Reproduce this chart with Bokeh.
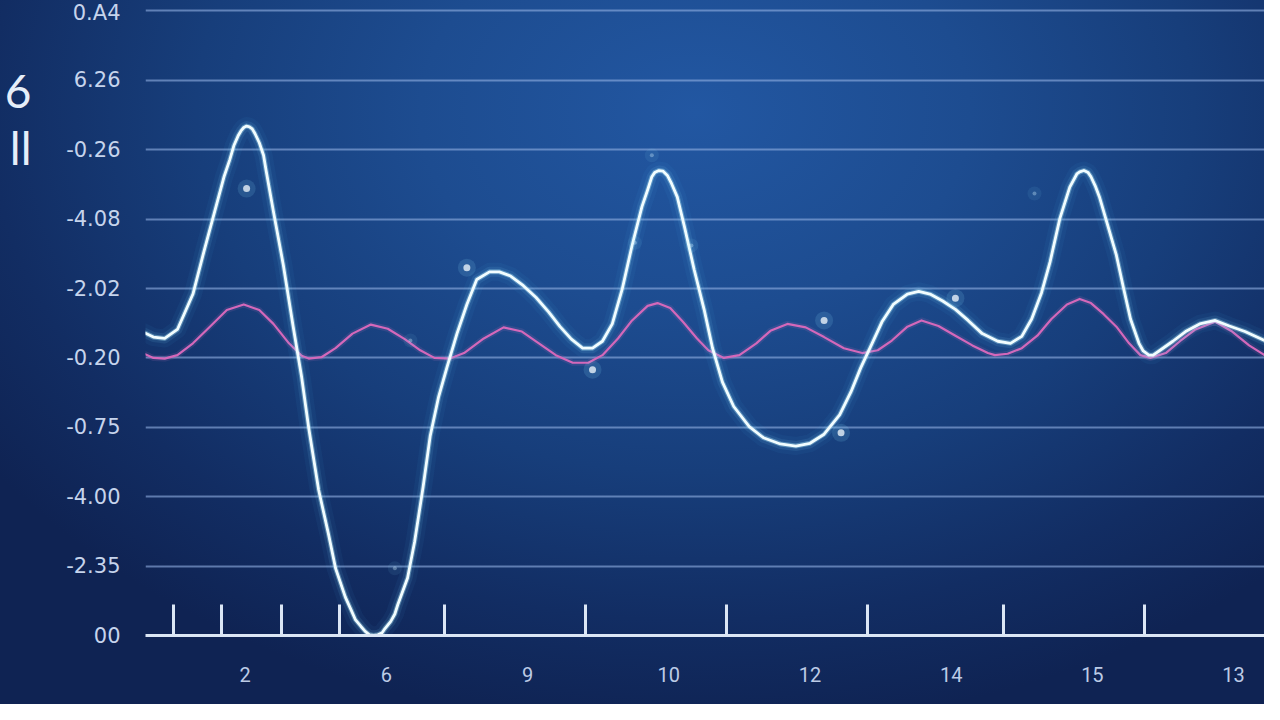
import numpy as np
from bokeh.plotting import figure
from bokeh.models import FixedTicker, Range1d, LinearAxis
from bokeh.embed import file_html
from bokeh.resources import INLINE

# ---------------- data ----------------
x_label_pos = [1, 2, 3, 4, 5, 6, 7, 8]
x_labels = ["2", "6", "9", "10", "12", "14", "15", "13"]
x_tick_marks = [0.49, 0.83, 1.26, 1.67, 2.41, 3.41, 4.41, 5.41, 6.37, 7.37]

y_levels = [0, 1, 2, 3, 4, 5, 6, 7, 8, 9]
y_labels = ["00", "-2.35", "-4.00", "-0.75", "-0.20", "-2.02", "-4.08", "-0.26", "6.26", "0.A4"]

frag_levels = [7.85, 7.03]
frag_labels = ["6", "ll"]

white_x = [0.12, 0.24, 0.35, 0.43, 0.52, 0.63, 0.71, 0.78, 0.85, 0.89,
           0.92, 0.95, 0.97, 0.99, 1.01, 1.03, 1.05, 1.07, 1.10, 1.13,
           1.15, 1.20, 1.27, 1.34, 1.40, 1.45, 1.52, 1.59, 1.64, 1.71,
           1.75, 1.78, 1.82, 1.85, 1.88, 1.91, 1.94, 1.97, 1.99, 2.03,
           2.06, 2.08, 2.15, 2.20, 2.26, 2.31, 2.37, 2.43, 2.50, 2.57,
           2.64, 2.73, 2.80, 2.88, 2.97, 3.06, 3.15, 3.23, 3.31, 3.39,
           3.46, 3.53, 3.60, 3.67, 3.74, 3.81, 3.85, 3.88, 3.90, 3.93,
           3.96, 3.99, 4.02, 4.06, 4.11, 4.18, 4.25, 4.31, 4.38, 4.46,
           4.57, 4.67, 4.79, 4.90, 5.00, 5.10, 5.21, 5.29, 5.36, 5.44,
           5.51, 5.59, 5.69, 5.77, 5.85, 5.94, 6.03, 6.12, 6.22, 6.33,
           6.42, 6.50, 6.57, 6.64, 6.70, 6.77, 6.84, 6.89, 6.91, 6.94,
           6.97, 6.99, 7.02, 7.05, 7.10, 7.17, 7.22, 7.27, 7.33, 7.36,
           7.40, 7.43, 7.48, 7.57, 7.66, 7.76, 7.87, 7.97, 8.08, 8.22]
white_y = [4.68, 4.41, 4.30, 4.28, 4.41, 4.92, 5.55, 6.08, 6.61, 6.85,
           7.06, 7.20, 7.27, 7.32, 7.34, 7.33, 7.30, 7.23, 7.10, 6.92,
           6.68, 6.11, 5.34, 4.45, 3.72, 2.99, 2.10, 1.46, 0.97, 0.55,
           0.37, 0.23, 0.13, 0.06, 0.01, 0.00, 0.01, 0.04, 0.10, 0.20,
           0.31, 0.44, 0.83, 1.35, 2.14, 2.87, 3.44, 3.87, 4.35, 4.77,
           5.13, 5.24, 5.24, 5.18, 5.04, 4.87, 4.66, 4.45, 4.27, 4.14,
           4.14, 4.24, 4.49, 4.99, 5.62, 6.18, 6.42, 6.61, 6.67, 6.70,
           6.69, 6.63, 6.51, 6.32, 5.90, 5.27, 4.70, 4.14, 3.65, 3.30,
           3.01, 2.85, 2.76, 2.73, 2.77, 2.90, 3.18, 3.51, 3.86, 4.21,
           4.52, 4.77, 4.92, 4.96, 4.92, 4.82, 4.70, 4.54, 4.35, 4.24,
           4.21, 4.31, 4.56, 4.94, 5.38, 6.01, 6.46, 6.65, 6.68, 6.70,
           6.67, 6.61, 6.48, 6.32, 5.97, 5.48, 5.01, 4.56, 4.21, 4.10,
           4.04, 4.04, 4.11, 4.24, 4.38, 4.49, 4.54, 4.46, 4.38, 4.25]

pink_x = [0.14, 0.24, 0.35, 0.43, 0.52, 0.63, 0.75, 0.87, 0.99, 1.10,
          1.20, 1.31, 1.40, 1.45, 1.54, 1.64, 1.76, 1.89, 2.01, 2.13,
          2.24, 2.34, 2.45, 2.55, 2.69, 2.83, 2.96, 3.08, 3.20, 3.32,
          3.43, 3.53, 3.64, 3.74, 3.85, 3.92, 4.01, 4.10, 4.20, 4.28,
          4.39, 4.50, 4.62, 4.72, 4.84, 4.97, 5.10, 5.24, 5.37, 5.48,
          5.58, 5.69, 5.79, 5.91, 6.03, 6.15, 6.26, 6.31, 6.40, 6.50,
          6.61, 6.71, 6.82, 6.91, 6.99, 7.08, 7.17, 7.26, 7.34, 7.41,
          7.52, 7.62, 7.73, 7.87, 7.99, 8.11, 8.22]
pink_y = [4.28, 4.10, 4.00, 3.99, 4.04, 4.21, 4.45, 4.69, 4.77, 4.69,
          4.49, 4.21, 4.03, 3.99, 4.01, 4.14, 4.35, 4.48, 4.42, 4.27,
          4.11, 4.00, 3.99, 4.07, 4.28, 4.44, 4.38, 4.21, 4.04, 3.93,
          3.93, 4.04, 4.28, 4.54, 4.75, 4.79, 4.72, 4.52, 4.28, 4.11,
          4.00, 4.04, 4.21, 4.39, 4.49, 4.44, 4.30, 4.14, 4.07, 4.11,
          4.25, 4.45, 4.54, 4.46, 4.32, 4.18, 4.07, 4.04, 4.06, 4.14,
          4.32, 4.56, 4.77, 4.85, 4.79, 4.63, 4.45, 4.21, 4.04, 4.00,
          4.07, 4.24, 4.41, 4.52, 4.38, 4.18, 4.04]

spark_x = [1.01, 2.57, 3.46, 5.10, 5.22, 6.03]
spark_y = [6.44, 5.30, 3.83, 4.54, 2.92, 4.86]
faint_x = [2.06, 2.17, 6.59, 3.76, 4.16, 3.88]
faint_y = [0.97, 4.25, 6.37, 5.66, 5.62, 6.92]

# ---------------- figure ----------------
p = figure(width=1264, height=704, output_backend="svg", toolbar_location=None,
           x_range=Range1d(0.294, 8.219), y_range=Range1d(0, 9.15),
           min_border_left=145, min_border_right=0, min_border_top=0,
           min_border_bottom=69)
p.background_fill_color = None
p.border_fill_color = None
p.outline_line_color = None
p.styles = {"background": "radial-gradient(ellipse 68% 88% at 55% 16%, "
                          "#2257a2 0%, #1d4c90 32%, #173e7b 58%, #122d63 82%, #0f2353 100%)"}

# x axis: labels at label positions, upward tick marks at their own positions
xt = FixedTicker(ticks=x_label_pos, minor_ticks=x_tick_marks)
p.xaxis.ticker = xt
p.xaxis.major_label_overrides = {k: v for k, v in zip(x_label_pos, x_labels)}
p.xaxis.major_tick_line_color = None
p.xaxis.major_tick_in = 0
p.xaxis.major_tick_out = 0
p.xaxis.minor_tick_line_color = "#dbe6f5"
p.xaxis.minor_tick_line_width = 3
p.xaxis.minor_tick_in = 31
p.xaxis.minor_tick_out = 0
p.xaxis.axis_line_color = "#dbe6f5"
p.xaxis.axis_line_width = 3
p.xaxis.major_label_standoff = 31
p.xaxis.major_label_text_font = "Roboto"
p.xaxis.major_label_text_font_size = "20px"
p.xaxis.major_label_text_color = "#bccbe6"

# y axis
yt = FixedTicker(ticks=y_levels, minor_ticks=[])
p.yaxis.ticker = yt
p.yaxis.major_label_overrides = {k: v for k, v in zip(y_levels, y_labels)}
p.yaxis.axis_line_color = None
p.yaxis.major_tick_line_color = None
p.yaxis.minor_tick_line_color = None
p.yaxis.major_label_standoff = 19
p.yaxis.major_label_text_font = "DejaVu Sans"
p.yaxis.major_label_text_font_size = "21px"
p.yaxis.major_label_text_color = "#c6d4ec"

# stray title fragments at the far left, drawn as an outer axis
frag = LinearAxis(ticker=FixedTicker(ticks=frag_levels, minor_ticks=[]),
                  major_label_overrides={k: v for k, v in zip(frag_levels, frag_labels)},
                  axis_line_color=None, major_tick_line_color=None,
                  minor_tick_line_color=None, major_tick_in=0, major_tick_out=0,
                  major_label_standoff=32, major_label_text_font="Lato",
                  major_label_text_font_size="46px", major_label_text_color="#e6eef9")
p.add_layout(frag, "left")

p.xgrid.visible = False
p.ygrid.ticker = yt
p.ygrid.grid_line_color = "#93b0e2"
p.ygrid.grid_line_alpha = 0.6
p.ygrid.grid_line_width = 2

# pink series
p.line(pink_x, pink_y, line_width=6, color="#e07ac8", alpha=0.12, line_join="round")
p.line(pink_x, pink_y, line_width=2.2, color="#d468ba", line_join="round")

# white glowing series
p.line(white_x, white_y, line_width=18, color="#4fc3f7", alpha=0.05, line_join="round", line_cap="round")
p.line(white_x, white_y, line_width=10, color="#7fdcff", alpha=0.10, line_join="round", line_cap="round")
p.line(white_x, white_y, line_width=5, color="#b5f0ff", alpha=0.35, line_join="round", line_cap="round")
p.line(white_x, white_y, line_width=2.8, color="#f2fdff", line_join="round", line_cap="round")

# sparkles
p.scatter(faint_x, faint_y, size=14, color="#8fe3ff", alpha=0.08, line_color=None)
p.scatter(faint_x, faint_y, size=4, color="#cfefff", alpha=0.35, line_color=None)
p.scatter(spark_x, spark_y, size=18, color="#8fe3ff", alpha=0.14, line_color=None)
p.scatter(spark_x, spark_y, size=7, color="#f4fbff", alpha=0.75, line_color=None)

open("out.html", "w").write(file_html(p, INLINE))
